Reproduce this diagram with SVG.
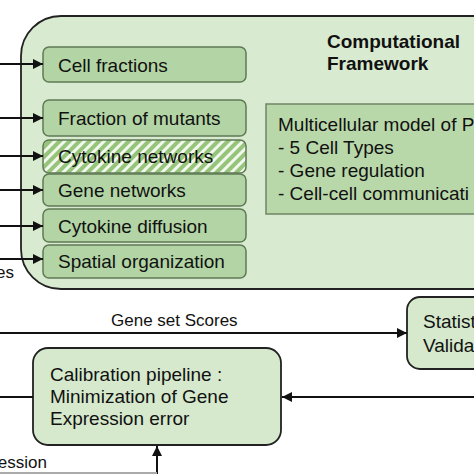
<svg xmlns="http://www.w3.org/2000/svg" width="474" height="474" viewBox="0 0 474 474">
<defs>
<style>
text{font-family:"Liberation Sans",Arial,sans-serif;fill:#111;}
.lbl{font-size:19px;}
.sm{font-size:17px;}
.inner{fill:#b3d5a5;stroke:#5f7a55;stroke-width:1.5;}
.conn{stroke:#111;stroke-width:2;fill:none;}
</style>
<marker id="ah" viewBox="0 0 10 10" refX="10" refY="5" markerWidth="5" markerHeight="5" orient="auto" markerUnits="strokeWidth">
<path d="M0,0 L10,5 L0,10 z" fill="#111"/>
</marker>
<pattern id="hatch" patternUnits="userSpaceOnUse" width="7" height="7" patternTransform="rotate(45)">
<rect width="7" height="7" fill="#f2f8ee"/>
<rect width="4" height="7" fill="#95c47a"/>
</pattern>
</defs>

<g id="framework">
<rect x="21" y="16" width="520" height="273" rx="40" ry="40" fill="#d8eacf" stroke="#222" stroke-width="1.8"/>
<text x="327" y="48" style="font-size:19px;font-weight:bold">Computational</text>
<text x="327" y="70" style="font-size:19px;font-weight:bold">Framework</text>
</g>

<g id="cell-fractions">
<rect class="inner" x="43" y="47" width="203" height="35" rx="6"/>
<text class="lbl" x="58" y="72">Cell fractions</text>
</g>
<g id="fraction-mutants">
<rect class="inner" x="43" y="100" width="203" height="36" rx="6"/>
<text class="lbl" x="58" y="125">Fraction of mutants</text>
</g>
<g id="cytokine-networks">
<rect x="43" y="140" width="203" height="33" rx="6" fill="url(#hatch)" stroke="#5f7a55" stroke-width="1.5"/>
<text class="lbl" x="58" y="163">Cytokine networks</text>
</g>
<g id="gene-networks">
<rect class="inner" x="43" y="174" width="203" height="32" rx="6"/>
<text class="lbl" x="58" y="197">Gene networks</text>
</g>
<g id="cytokine-diffusion">
<rect class="inner" x="43" y="209" width="203" height="33" rx="6"/>
<text class="lbl" x="58" y="233">Cytokine diffusion</text>
</g>
<g id="spatial-organization">
<rect class="inner" x="43" y="245" width="203" height="33" rx="6"/>
<text class="lbl" x="58" y="268">Spatial organization</text>
</g>

<g id="multicellular-model">
<rect x="266" y="104" width="230" height="110" fill="#b9d8aa" stroke="#6f8466" stroke-width="1.5"/>
<text class="lbl" x="278" y="131">Multicellular model of P</text>
<text class="lbl" x="278" y="154">- 5 Cell Types</text>
<text class="lbl" x="278" y="177">- Gene regulation</text>
<text class="lbl" x="278" y="200">- Cell-cell communicati</text>
</g>

<g id="statistical-validation">
<rect x="407" y="297" width="100" height="72" rx="13" fill="#d6e9cd" stroke="#222" stroke-width="1.8"/>
<text class="lbl" x="423" y="328">Statist</text>
<text class="lbl" x="423" y="352">Valida</text>
</g>

<g id="calibration-pipeline">
<rect x="33" y="348" width="248" height="97" rx="15" fill="#d6e9cd" stroke="#222" stroke-width="1.8"/>
<text class="lbl" x="50" y="381">Calibration pipeline :</text>
<text class="lbl" x="50" y="403">Minimization of Gene</text>
<text class="lbl" x="50" y="425">Expression error</text>
</g>

<g id="connectors">
<line class="conn" x1="0" y1="64" x2="43" y2="64" marker-end="url(#ah)"/>
<line class="conn" x1="0" y1="118" x2="43" y2="118" marker-end="url(#ah)"/>
<line class="conn" x1="0" y1="156" x2="43" y2="156" marker-end="url(#ah)"/>
<line class="conn" x1="0" y1="190" x2="43" y2="190" marker-end="url(#ah)"/>
<line class="conn" x1="0" y1="226" x2="43" y2="226" marker-end="url(#ah)"/>
<line class="conn" x1="0" y1="259" x2="43" y2="259" marker-end="url(#ah)"/>
<text class="sm" x="14" y="278" text-anchor="end">es</text>
<line class="conn" x1="0" y1="333" x2="407" y2="333" marker-end="url(#ah)"/>
<text class="sm" x="111" y="326">Gene set Scores</text>
<line class="conn" x1="0" y1="397" x2="33" y2="397"/>
<line class="conn" x1="474" y1="397" x2="282" y2="397" marker-end="url(#ah)"/>
<line class="conn" x1="157" y1="474" x2="157" y2="446" marker-end="url(#ah)"/>
<line x1="0" y1="473" x2="157" y2="473" stroke="#aaa" stroke-width="2"/>
<text class="sm" x="47" y="468" text-anchor="end">ession</text>
</g>
</svg>
